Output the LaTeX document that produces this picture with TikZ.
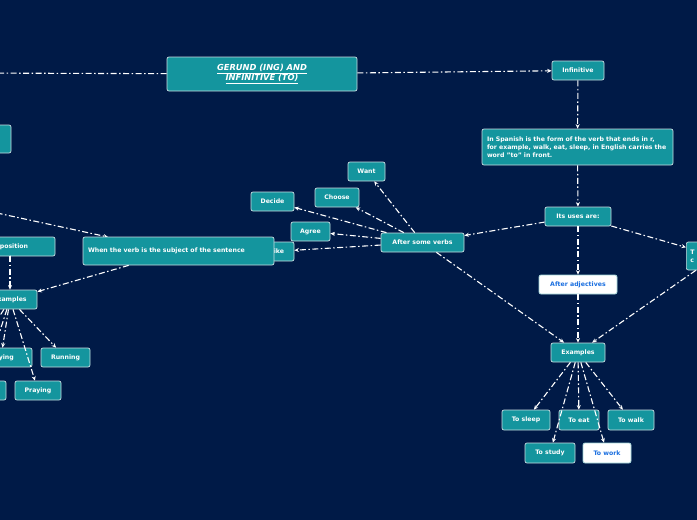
\documentclass[tikz,border=0pt]{standalone}
\usepackage{fontspec}
\setmainfont{DejaVu Sans}
\usetikzlibrary{arrows.meta}
\definecolor{bg}{HTML}{001A47}
\definecolor{teal}{HTML}{14959E}
\definecolor{edge}{HTML}{C8DCE0}
\definecolor{btext}{HTML}{1A6FE0}
\hyphenpenalty=10000
\tikzset{
 box/.style={draw=edge,line width=0.7pt,fill=teal,rounded corners=2pt,text=white,font=\bfseries\fontsize{6.2}{8}\selectfont,inner sep=0pt,align=center},
 wbox/.style={box,fill=white,draw=teal!40,text=btext},
 con/.style={draw=white,line width=1.1pt,dash pattern=on 6pt off 2.5pt on 1.5pt off 2.5pt,-{Stealth[length=4.5pt,width=4pt]}},
 conn/.style={con,-}
}
\begin{document}
\begin{tikzpicture}[x=1pt,y=-1pt]
\fill[bg] (0,0) rectangle (697,520);
\clip (0,0) rectangle (697,520);
\useasboundingbox (0,0) rectangle (697,520);
% nodes
\node[box,minimum width=190pt,minimum height=34pt,font=\bfseries\itshape\fontsize{8.3}{10}\selectfont] (title) at (262,74) {\underline{GERUND (ING) AND}\\\underline{INFINITIVE (TO)}};
\node[box,minimum width=52pt,minimum height=19pt] (inf) at (578,70.5) {Infinitive};
\node[box,minimum width=191pt,minimum height=36pt,align=left,text width=181pt] (span) at (577.5,147) {\hyphenpenalty=10000 In Spanish is the form of the verb that ends in r, for example, walk, eat, sleep, in English carries the word "to" in front.};
\node[box,minimum width=66pt,minimum height=19pt] (uses) at (578,216.5) {Its uses are:};
\node[wbox,minimum width=78pt,minimum height=19pt] (adj) at (578,284.5) {After adjectives};
\node[box,minimum width=54pt,minimum height=19pt] (exr) at (578,352.5) {Examples};
\node[box,minimum width=48pt,minimum height=20pt] (sleep) at (526,420) {To sleep};
\node[box,minimum width=40pt,minimum height=20pt] (eat) at (579,420) {To eat};
\node[box,minimum width=46pt,minimum height=20pt] (walk) at (631,420) {To walk};
\node[box,minimum width=50pt,minimum height=20pt] (study) at (550,453) {To study};
\node[wbox,minimum width=48pt,minimum height=20pt] (work) at (607,453) {To work};
\node[box,minimum width=83pt,minimum height=19pt] (asv) at (422.5,242.5) {After some verbs};
\node[box,minimum width=37pt,minimum height=19pt] (want) at (366.5,171.5) {Want};
\node[box,minimum width=44pt,minimum height=19pt] (choose) at (337,197.5) {Choose};
\node[box,minimum width=43pt,minimum height=19pt] (decide) at (272.5,201.5) {Decide};
\node[box,minimum width=39pt,minimum height=19pt] (agree) at (310.5,231.5) {Agree};
\node[box,minimum width=40pt,minimum height=19pt] (like) at (274,251.5) {\hspace*{6pt}Like};
\node[box,minimum width=60pt,minimum height=28pt,align=left,text width=52pt,anchor=west] (rt) at (686,256) {T\\c};
\node[box,minimum width=60pt,minimum height=28pt] (lt) at (-19,139) {};
\node[box,minimum width=120pt,minimum height=19pt] (prep) at (-5,246.5) {After a preposition};
\node[box,minimum width=54pt,minimum height=19pt] (exl) at (10,299.5) {Examples};
\node[box,minimum width=62pt,minimum height=19pt] (play) at (1,357.5) {Playing};
\node[box,minimum width=49pt,minimum height=19pt] (run) at (65.5,357.5) {Running};
\node[box,minimum width=46pt,minimum height=19pt] (pray) at (38,390.5) {Praying};
\node[box,minimum width=50pt,minimum height=19pt] (bl) at (-19,390.5) {};
\coordinate (offl) at (-40,73);
\coordinate (offl2) at (-40,205);
\coordinate (offl3) at (-40,380);
\coordinate (wt) at (108,237);
\coordinate (pb) at (10,256);
% connectors
\draw[conn] (title) -- (offl);
\draw[con] (title) -- (inf);
\draw[con] (inf) -- (span);
\draw[con] (span) -- (uses);
\draw[con] (uses) -- (asv);
\draw[con] (uses) -- (adj);
\draw[con] (uses) -- (rt);
\draw[con] (adj) -- (exr);
\draw[con] (rt) -- (exr);
\draw[con] (asv) -- (exr);
\draw[con] (asv) -- (want);
\draw[con] (asv) -- (choose);
\draw[con] (asv) -- (decide);
\draw[con] (asv) -- (agree);
\draw[con] (asv) -- (like);
\draw[con] (exr) -- (sleep);
\draw[con] (exr) -- (eat);
\draw[con] (exr) -- (walk);
\draw[con] (exr) -- (study);
\draw[con] (exr) -- (work);
\draw[con] (offl2) -- (wt);
\draw[conn] (pb) -- (prep);
\draw[con] (pb) -- (exl);
\draw[con] (exl) -- (play);
\draw[con] (exl) -- (run);
\draw[con] (exl) -- (pray);
\draw[con] (exl) -- (bl);
\draw[con] (exl) -- (offl3);
\node[box,minimum width=191pt,minimum height=28pt,align=left,text width=181pt] (when) at (178.5,251) {When the verb is the subject of the sentence};
\draw[con] (when) -- (exl);
\end{tikzpicture}
\end{document}
